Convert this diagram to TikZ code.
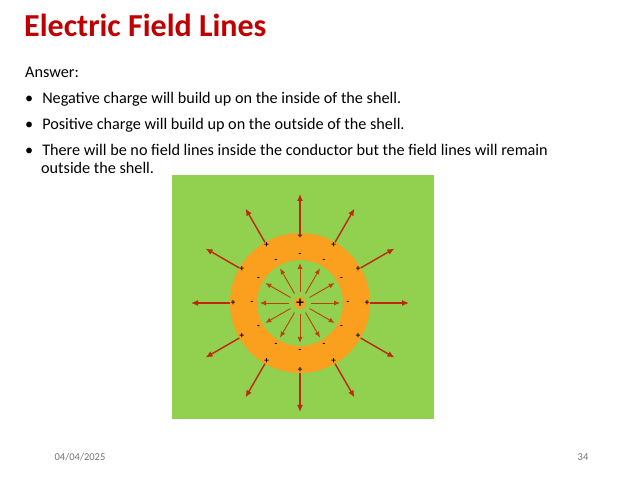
\documentclass[tikz,border=0pt]{standalone}
\usepackage{fontspec}
\setmainfont{Carlito}
\usetikzlibrary{arrows.meta,calc}
\definecolor{titlered}{RGB}{192,0,0}
\definecolor{bggreen}{RGB}{146,208,80}
\definecolor{shellorange}{RGB}{250,160,30}
\definecolor{arrowred}{RGB}{210,45,10}
\tikzset{
  fieldline/.style={draw=arrowred!90!black, line width=1.4pt, -{Latex[length=7pt,width=6pt]}},
  innerline/.style={draw=arrowred!75!olive, line width=0.9pt, -{Latex[length=6pt,width=5pt]}},
  chg/.style={inner sep=0pt, font=\fontsize{9}{9}\selectfont\bfseries},
  body/.style={anchor=base west, font=\fontsize{16.2}{19}\selectfont, inner sep=0pt},
  foot/.style={anchor=base, font=\fontsize{10.5}{11}\selectfont, text=black!55, inner sep=0pt}
}
\begin{document}
\begin{tikzpicture}[x=1pt,y=-1pt]
\useasboundingbox (0,0) rectangle (638,478);
\node[anchor=base west, inner sep=0pt, font=\fontsize{32}{34}\selectfont\bfseries, text=titlered] (title) at (24,37) {Electric Field Lines};
\node[body] (ans) at (25,78) {Answer:};
\node[body] (b1) at (25,104) {•\hspace{9pt}Negative charge will build up on the inside of the shell.};
\node[body] (b2) at (25,130) {•\hspace{9pt}Positive charge will build up on the outside of the shell.};
\node[body] (b3) at (25,156) {•\hspace{9pt}There will be no field lines inside the conductor but the field lines will remain};
\node[body] (b3b) at (41,174) {outside the shell.};
\fill[bggreen] (172,175) rectangle (434,419);
\coordinate (c) at (300,303);
\fill[shellorange,even odd rule] (c) circle (70) (c) circle (43);
\fill[shellorange] (c) circle (6);
\node[inner sep=0pt, font=\fontsize{15}{15}\selectfont\bfseries] (q) at (c) {+};
\foreach \a in {0,30,...,330}{
  \draw[fieldline] ($(c)+(\a:70)$) -- ($(c)+(\a:109)$);
  \draw[innerline] ($(c)+(\a:11)$) -- ($(c)+(\a:40)$);
  \node[chg] at ($(c)+(\a:67)$) {+};
  \node[chg] at ($(c)+(\a:48)$) {-};
}
\node[foot] (date) at (80,461) {04/04/2025};
\node[foot] (page) at (583,461) {34};
\end{tikzpicture}
\end{document}
